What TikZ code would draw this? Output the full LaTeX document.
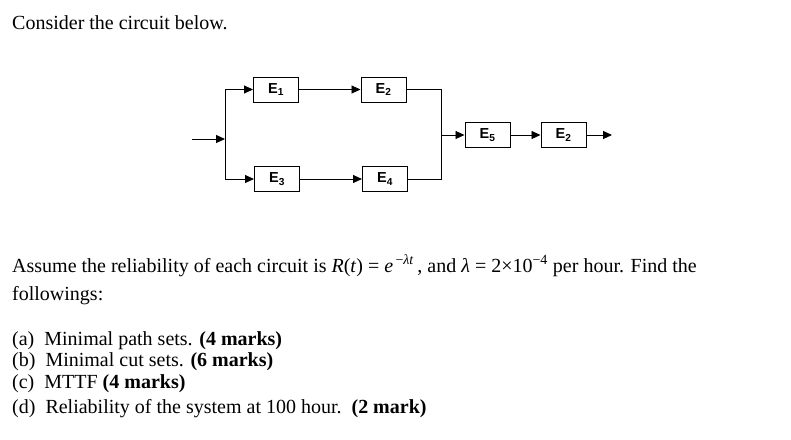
\documentclass[tikz,border=0pt]{standalone}
\usepackage{fontspec}
\setmainfont{Liberation Serif}
\newfontfamily\boxfont{Liberation Sans}
\usetikzlibrary{arrows.meta}
\begin{document}
\begin{tikzpicture}[x=1pt,y=-1pt,
  blk/.style={draw,line width=1pt,minimum width=45pt,minimum height=25pt,inner sep=0pt,font=\boxfont\bfseries\fontsize{14.5}{14.5}\selectfont},
  w/.style={line width=0.9pt},
  a/.style={w,-{Triangle[length=9pt,width=8pt]}},
  txt/.style={anchor=base west,inner sep=0pt,font=\fontsize{20}{22}\selectfont}]
\useasboundingbox (0,0) rectangle (791,439);
\node[txt] (t0) at (12,29) {Consider the circuit below.};
\node[blk] (e1) at (276,89.5) {E\textsubscript{1}};
\node[blk] (e2) at (383.5,89.5) {E\textsubscript{2}};
\node[blk] (e3) at (277,179) {E\textsubscript{3}};
\node[blk] (e4) at (385,179) {E\textsubscript{4}};
\node[blk] (e5) at (487.5,135) {E\textsubscript{5}};
\node[blk] (e6) at (563.5,135) {E\textsubscript{2}};
\coordinate (in) at (192,139);
\coordinate (sp) at (225,139);
\coordinate (jn) at (441,135);
\coordinate (out) at (612,135);
\draw[a] (in) -- (sp);
\draw[w] (sp |- e1) -- (sp |- e3);
\draw[a] (sp |- e1) -- (e1.west);
\draw[a] (sp |- e3) -- (e3.west);
\draw[a] (e1) -- (e2);
\draw[a] (e3) -- (e4);
\draw[w] (e2.east) -- (jn |- e2) -- (jn |- e4) -- (e4.east);
\draw[a] (jn) -- (e5.west);
\draw[a] (e5) -- (e6);
\draw[a] (e6.east) -- (out);
\node[txt] (p1) at (12,272) {Assume the reliability of each circuit is \textit{R}(\textit{t}) = \textit{e}\textsuperscript{\,−\textit{λt}}\,, and \textit{λ} = 2×10\textsuperscript{−4} per hour. Find the};
\node[txt] (p2) at (12,300) {followings:};
\node[txt] (q1) at (12,345) {(a)\ \ Minimal path sets. \textbf{(4 marks)}};
\node[txt] (q2) at (12,366) {(b)\ \ Minimal cut sets. \textbf{(6 marks)}};
\node[txt] (q3) at (12,388) {(c)\ \ MTTF \textbf{(4 marks)}};
\node[txt] (q4) at (12,413) {(d)\ \ Reliability of the system at 100 hour.\ \ \textbf{(2 mark)}};
\end{tikzpicture}
\end{document}
